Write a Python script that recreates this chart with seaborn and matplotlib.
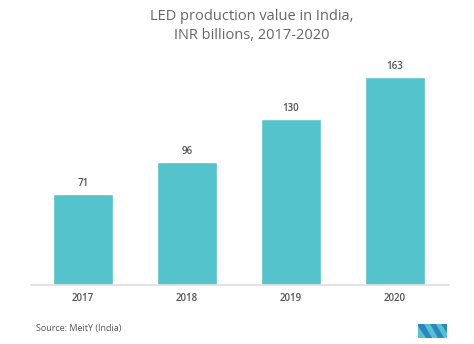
import matplotlib
matplotlib.use("Agg")
import matplotlib.pyplot as plt
import seaborn as sns
import pandas as pd
from matplotlib.patches import Polygon

years = ["2017", "2018", "2019", "2020"]
values = [71, 96, 130, 163]
labels = ["71", "96", "130", "163"]

sns.set_theme(style="white")
plt.rcParams['font.family'] = ['Open Sans', 'DejaVu Sans']

df = pd.DataFrame({"year": years, "value": values})

fig = plt.figure(figsize=(4.74, 3.44), dpi=100, facecolor="white")
ax = fig.add_axes([31/474, 59/344, 418/474, 225/344])
sns.barplot(data=df, x="year", y="value", color="#55C3CC", saturation=1,
            width=0.58, ax=ax)
ax.set_xlim(-0.5, 3.52)
ax.set_ylim(0, 176)
for i, (v, l) in enumerate(zip(values, labels)):
    ax.text(i, v + 4, l, ha="center", va="bottom", fontsize=7, color="#555555",
            fontweight="semibold")
ax.set_xlabel("")
ax.set_ylabel("")
ax.set_yticks([])
for s in ["top", "right", "left"]:
    ax.spines[s].set_visible(False)
ax.spines["bottom"].set_color("#dddddd")
ax.spines["bottom"].set_linewidth(1.2)
ax.tick_params(axis="x", length=0, labelsize=7, colors="#555555", pad=6)
for t in ax.get_xticklabels():
    t.set_fontweight("semibold")
ax.set_facecolor("white")

fig.text(252/474, 1 - 26/344, "LED production value in India,\nINR billions, 2017-2020",
         ha="center", va="center", fontsize=10.5, color="#666666", linespacing=1.45)
fig.text(36/474, 1 - 328/344, "Source: MeitY (India)", ha="left", va="center",
         fontsize=6.5, color="#555555")

# logo
def P(pts, c):
    fig.patches.append(Polygon([(x/474, 1 - y/344) for x, y in pts], closed=True,
                               transform=fig.transFigure, facecolor=c, edgecolor="none"))
P([(418, 324), (447, 324), (447, 338), (418, 338)], "#2E86C1")
P([(418, 326), (426, 338), (418, 338)], "#55C3CC")
P([(424, 324), (430, 324), (438, 338), (432, 338)], "#55C3CC")
P([(436, 324), (441, 324), (447, 333), (447, 338), (444, 338)], "#55C3CC")

fig.savefig("out.png", dpi=100, facecolor="white")
